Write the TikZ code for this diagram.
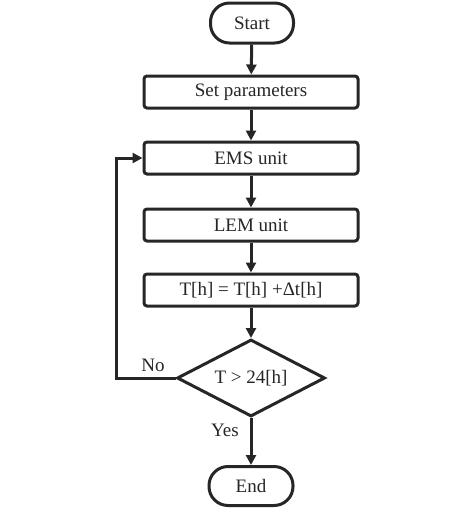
\documentclass[tikz,border=0pt]{standalone}
\usepackage{fontspec}
\setmainfont{Liberation Serif}
\usetikzlibrary{shapes.geometric,arrows.meta}
\begin{document}
\begin{tikzpicture}[x=1pt,y=-1pt,
  every node/.style={font=\fontsize{19}{21}\selectfont, text=black!85},
  box/.style={draw=black!85, line width=3pt, rounded corners=3pt, minimum width=214pt, minimum height=32pt, inner sep=0pt},
  term/.style={draw=black!85, line width=3pt, rounded corners=19pt, minimum width=83pt, minimum height=40pt, inner sep=0pt},
  dec/.style={draw=black!85, line width=3pt, diamond, aspect=1.92, minimum width=148pt, minimum height=77pt, inner sep=0pt},
  conn/.style={line width=3pt, draw=black!85, -{Triangle[length=10pt,width=10pt]}},
  lbl/.style={}]
\useasboundingbox (0,0) rectangle (474,517);
\node[term] (start) at (252,23) {Start};
\node[box] (set) at (251,92) {Set parameters};
\node[box] (ems) at (251,158) {EMS unit};
\node[box] (lem) at (251,225) {LEM unit};
\node[box] (upd) at (251,290) {T[h] = T[h] +Δt[h]};
\node[dec] (dec) at (251,378) {T > 24[h]};
\node[term, minimum width=84pt, minimum height=39pt] (end) at (251,486) {End};
\coordinate (lp) at (116,378);
\draw[conn] (start) -- (set);
\draw[conn] (set) -- (ems);
\draw[conn] (ems) -- (lem);
\draw[conn] (lem) -- (upd);
\draw[conn] (upd) -- (dec);
\draw[conn] (dec) -- (end);
\draw[conn] (dec.west) -- (lp) |- (ems.west);
\node[lbl] (no) at (153,365) {No};
\node[lbl] (yes) at (225,430) {Yes};
\end{tikzpicture}
\end{document}
